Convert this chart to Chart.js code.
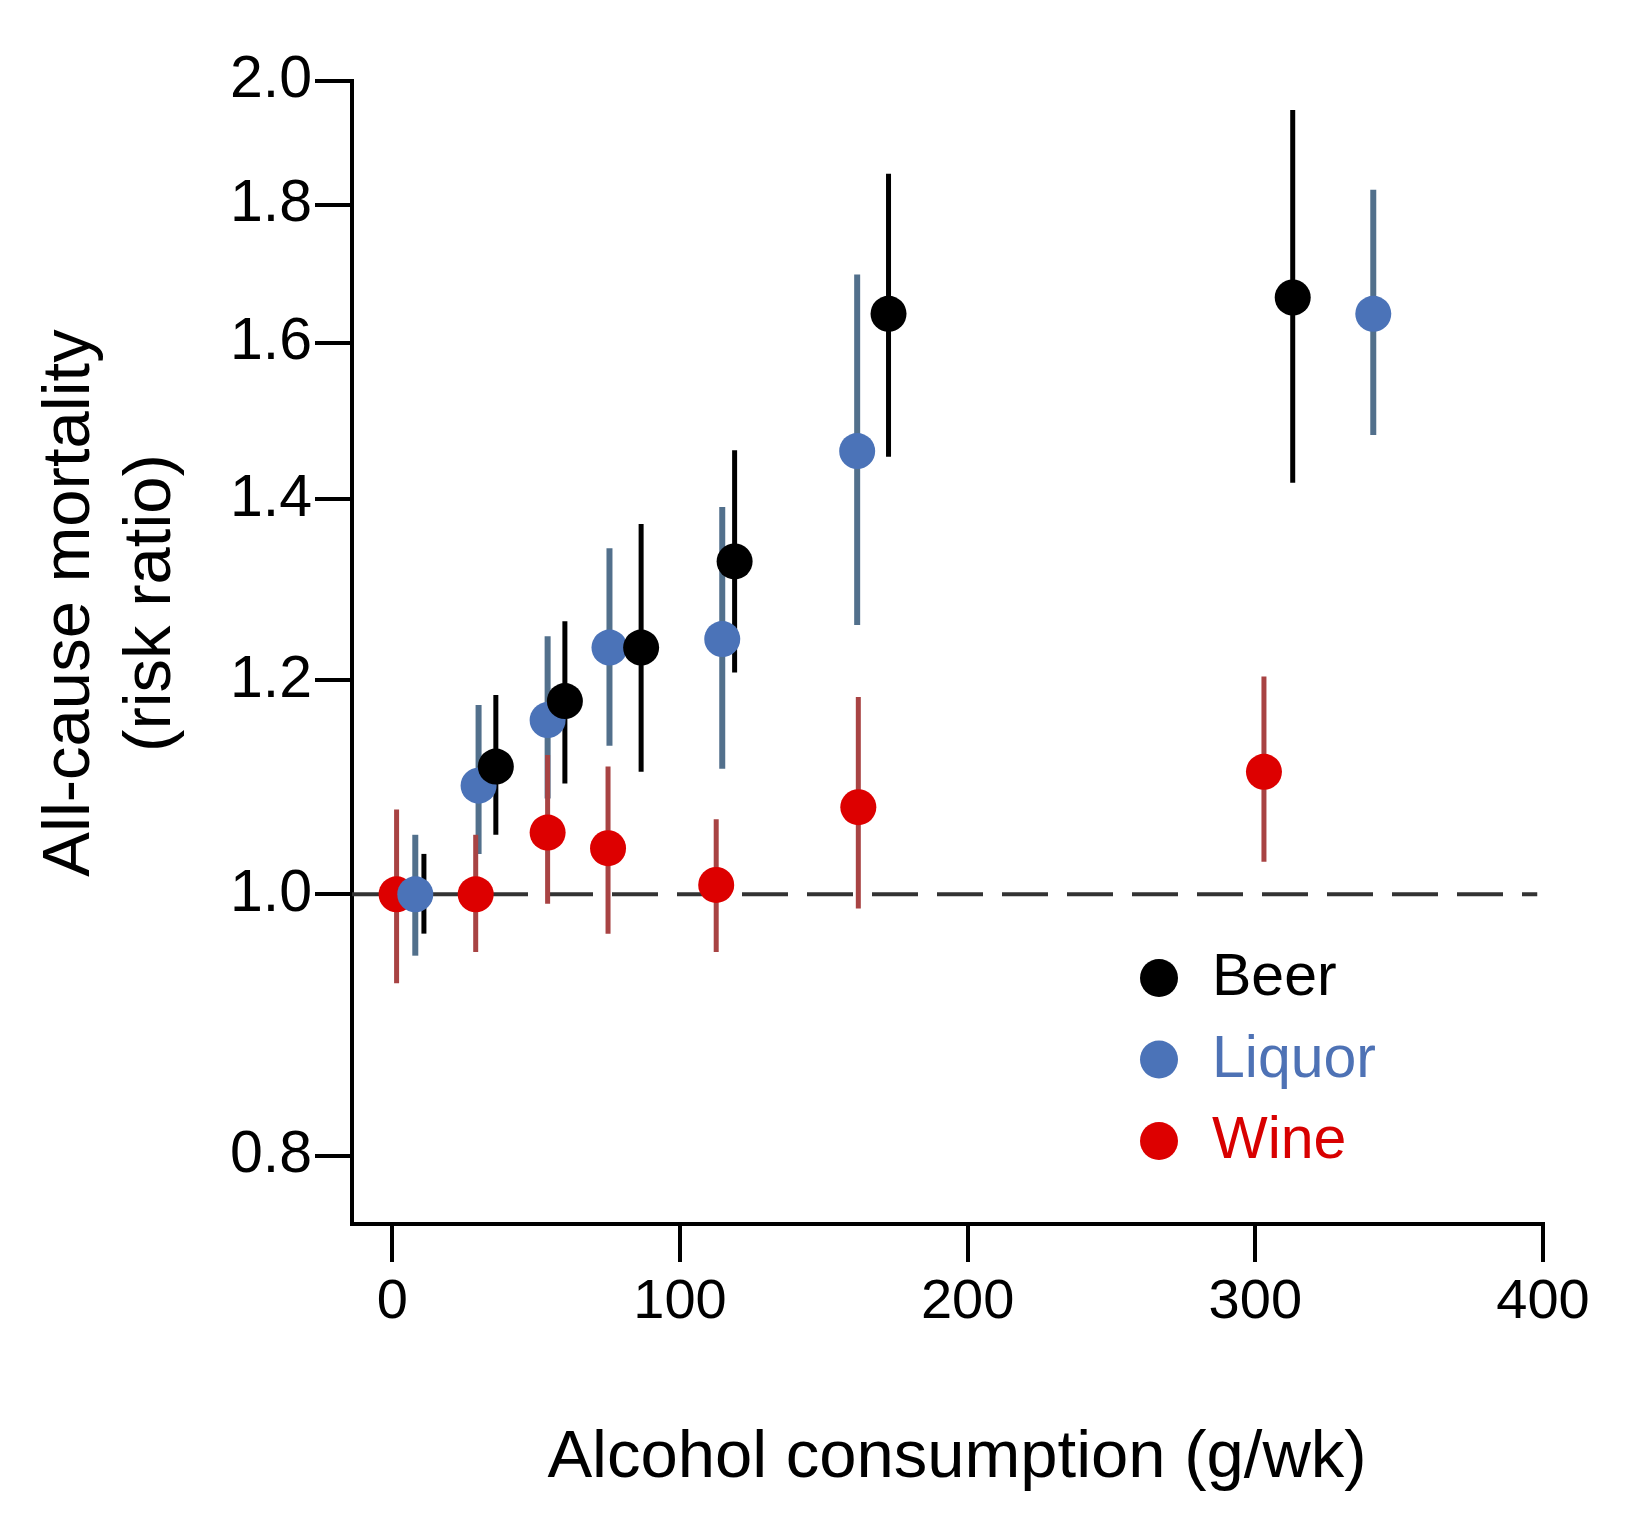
<!DOCTYPE html>
<html>
<head>
<meta charset="utf-8">
<title>All-cause mortality by alcohol type</title>
<script src="https://cdn.jsdelivr.net/npm/chart.js@4.4.1/dist/chart.umd.min.js"></script>
<style>
  html, body { margin: 0; padding: 0; background: #fff; }
  canvas { display: block; }
</style>
</head>
<body>
<canvas id="chart" width="1629" height="1533"></canvas>
<script>
const xTicks = [0, 100, 200, 300, 400];
const yTicks = [0.8, 1.0, 1.2, 1.4, 1.6, 1.8, 2.0];
const xTitle = 'Alcohol consumption (g/wk)';
const yTitle = ['All-cause mortality', '(risk ratio)'];

const beerX = [11, 36, 60, 86.5, 119, 172.5, 313];
const beerY = [1.0, 1.115, 1.179, 1.234, 1.328, 1.640, 1.663];
const beerLow = [0.967, 1.052, 1.099, 1.110, 1.208, 1.452, 1.420];
const beerHigh = [1.035, 1.185, 1.262, 1.371, 1.460, 1.848, 1.951];

const liquorX = [8, 30, 54, 75.5, 114.7, 161.6, 341];
const liquorY = [1.0, 1.097, 1.160, 1.234, 1.243, 1.459, 1.640];
const liquorLow = [0.949, 1.035, 1.085, 1.135, 1.113, 1.258, 1.479];
const liquorHigh = [1.052, 1.175, 1.246, 1.343, 1.391, 1.696, 1.823];

const wineX = [1.5, 29, 54, 75, 112.6, 162, 303];
const wineY = [1.0, 1.0, 1.054, 1.040, 1.008, 1.077, 1.110];
const wineLow = [0.927, 0.952, 0.992, 0.967, 0.952, 0.988, 1.028];
const wineHigh = [1.075, 1.052, 1.126, 1.115, 1.066, 1.183, 1.204];

// reference line at risk ratio 1.0
const refX = [-14, 398];
const refY = [1.0, 1.0];

const FONT = "'Liberation Sans', Arial, Helvetica, sans-serif";

const series = [
    { label: 'Beer', x: beerX, y: beerY, low: beerLow, high: beerHigh,
      color: '#000000', text: '#000000', bar: '#000000', barWidth: 5,
      radius: [0, 18, 18, 18, 18, 18, 18] },
    { label: 'Liquor', x: liquorX, y: liquorY, low: liquorLow, high: liquorHigh,
      color: '#4b73b8', text: '#4e72b5', bar: '#52708c', barWidth: 6, radius: 18 },
    { label: 'Wine', x: wineX, y: wineY, low: wineLow, high: wineHigh,
      color: '#dd0000', text: '#d80000', bar: '#a84343', barWidth: 5, radius: 18 }
];

function toPoints(xs, ys) {
    return xs.map((x, i) => ({ x: x, y: ys[i] }));
}

// error bars go under every marker, so draw them right before the first marker set (Wine)
const errorBarPlugin = {
    id: 'errorBars',
    beforeDatasetDraw(chart, args) {
        if (chart.data.datasets[args.index].label !== 'Wine') return;
        const ctx = chart.ctx;
        const xs = chart.scales.x;
        const ys = chart.scales.y;
        ctx.save();
        ctx.lineCap = 'butt';
        series.forEach(s => {
            ctx.strokeStyle = s.bar;
            ctx.lineWidth = s.barWidth;
            s.x.forEach((xv, i) => {
                const px = xs.getPixelForValue(xv);
                ctx.beginPath();
                ctx.moveTo(px, ys.getPixelForValue(s.low[i]));
                ctx.lineTo(px, ys.getPixelForValue(s.high[i]));
                ctx.stroke();
            });
        });
        ctx.restore();
    }
};

// axis titles and the legend inside the plot
const textPlugin = {
    id: 'texts',
    afterDraw(chart) {
        const ctx = chart.ctx;
        ctx.save();
        ctx.fillStyle = '#000';
        ctx.font = '67px ' + FONT;
        ctx.textAlign = 'center';
        ctx.textBaseline = 'alphabetic';
        ctx.fillText(xTitle, 957, 1477);

        yTitle.forEach((line, i) => {
            ctx.save();
            ctx.translate(89 + i * 81, 603);
            ctx.rotate(-Math.PI / 2);
            ctx.fillText(line, 0, 0);
            ctx.restore();
        });

        ctx.font = '59px ' + FONT;
        ctx.textAlign = 'left';
        series.forEach((s, i) => {
            const cy = 978 + i * 81.5;
            ctx.fillStyle = s.color;
            ctx.beginPath();
            ctx.arc(1159, cy, 19, 0, Math.PI * 2);
            ctx.fill();
            ctx.fillStyle = s.text;
            ctx.fillText(s.label, 1212, cy + 17);
        });
        ctx.restore();
    }
};

const datasets = series.map(s => ({
    label: s.label,
    data: toPoints(s.x, s.y),
    backgroundColor: s.color,
    borderColor: s.color,
    borderWidth: 0,
    pointRadius: s.radius,
    pointHoverRadius: s.radius,
    pointBorderWidth: 0
}));

datasets.push({
    type: 'line',
    label: 'ref',
    data: toPoints(refX, refY),
    showLine: true,
    borderColor: '#333333',
    borderWidth: 4,
    borderDash: [46, 19],
    pointRadius: 0,
    fill: false
});

new Chart(document.getElementById('chart'), {
    type: 'scatter',
    data: { datasets: datasets },
    options: {
        responsive: false,
        animation: false,
        devicePixelRatio: 1,
        layout: { padding: { left: 0, top: 81, right: 86, bottom: 0 } },
        plugins: {
            legend: { display: false },
            tooltip: { enabled: false }
        },
        scales: {
            x: {
                type: 'linear',
                min: -14,
                max: 400,
                afterBuildTicks: scale => { scale.ticks = xTicks.map(v => ({ value: v })); },
                afterFit: scale => { scale.height = 309; },
                border: { display: true, color: '#000', width: 4 },
                grid: { drawOnChartArea: false, drawTicks: true, tickLength: 38, color: '#000', lineWidth: 4 },
                ticks: { font: { family: FONT, size: 56 }, color: '#000', padding: 7, maxRotation: 0, autoSkip: false }
            },
            y: {
                type: 'logarithmic',
                min: 0.755,
                max: 2.0,
                afterBuildTicks: scale => { scale.ticks = yTicks.map(v => ({ value: v })); },
                afterFit: scale => { scale.width = 352; },
                border: { display: true, color: '#000', width: 4 },
                grid: { drawOnChartArea: false, drawTicks: true, tickLength: 37, color: '#000', lineWidth: 4 },
                ticks: {
                    font: { family: FONT, size: 59 }, color: '#000', padding: 3, autoSkip: false,
                    callback: v => Number(v).toFixed(1)
                }
            }
        }
    },
    plugins: [errorBarPlugin, textPlugin]
});
</script>
</body>
</html>
